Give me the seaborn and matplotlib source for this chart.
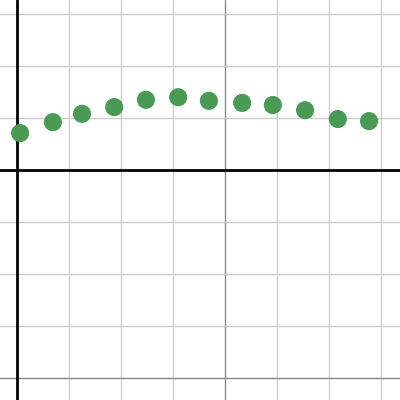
import matplotlib
matplotlib.use("Agg")
import matplotlib.pyplot as plt
import seaborn as sns
import numpy as np

# Point values
x_vals = [0.06, 0.69, 1.25, 1.87, 2.48, 3.10, 3.69, 4.33, 4.92, 5.54, 6.17, 6.77]
y_vals = [0.71, 0.92, 1.08, 1.21, 1.35, 1.40, 1.33, 1.29, 1.25, 1.15, 0.98, 0.94]

sns.set_style("white")
fig = plt.figure(figsize=(4, 4), dpi=100)
ax = fig.add_axes([0, 0, 1, 1])

x_min, x_max = -17 / 52, 383 / 52
y_min, y_max = -230 / 52, 170 / 52
ax.set_xlim(x_min, x_max)
ax.set_ylim(y_min, y_max)

# minor / major grid
for gx in np.arange(-1, 8):
    if gx == 0:
        continue
    c, lw = ("#888888", 1.0) if gx % 4 == 0 else ("#cccccc", 1.0)
    ax.axvline(gx, color=c, lw=lw, zorder=0)
for gy in np.arange(-5, 4):
    if gy == 0:
        continue
    c, lw = ("#888888", 1.0) if gy % 4 == 0 else ("#cccccc", 1.0)
    ax.axhline(gy, color=c, lw=lw, zorder=0)
ax.axvline(0, color="black", lw=2, zorder=1)
ax.axhline(0, color="black", lw=2, zorder=1)

sns.scatterplot(x=x_vals, y=y_vals, ax=ax, s=170, color="#4a9a55",
                edgecolor="none", zorder=3)

ax.set_xticks([])
ax.set_yticks([])
for s in ax.spines.values():
    s.set_visible(False)

fig.savefig("out.png", dpi=100)
